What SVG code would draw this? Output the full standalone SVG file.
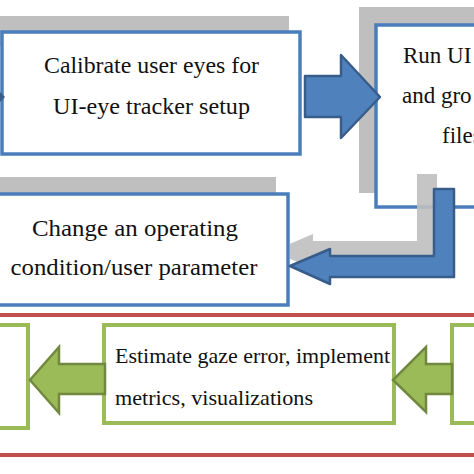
<svg xmlns="http://www.w3.org/2000/svg" width="474" height="474" viewBox="0 0 474 474">
<style>
.shadow{fill:#bfbfbf}
.bbox{fill:#ffffff;stroke:#4a7ebb;stroke-width:3.5}
.gbox{fill:#ffffff;stroke:#9bbb59;stroke-width:4}
.barrow{fill:#4f81bd;stroke:#385d8a;stroke-width:2.5;stroke-linejoin:round}
.garrow{fill:#9bbb59;stroke:#71893f;stroke-width:2.5;stroke-linejoin:miter}
.t{font-family:"Liberation Serif","Times New Roman",serif;font-size:23px;fill:#111111}
.ts{font-family:"Liberation Serif","Times New Roman",serif;font-size:21px;fill:#111111}
</style>
<rect width="474" height="474" fill="#ffffff"/>
<g id="group-red">
<rect x="-10" y="315" width="494" height="140" fill="none" stroke="#c0504d" stroke-width="4"/>
</g>
<g id="box-calibrate">
<rect class="shadow" x="-10" y="16" width="299" height="30"/>
<rect class="bbox" x="2" y="32" width="298" height="122"/>
<text class="t" x="151.5" y="73" text-anchor="middle" textLength="215" lengthAdjust="spacingAndGlyphs">Calibrate user eyes for</text>
<text class="t" x="151.5" y="114" text-anchor="middle" textLength="197" lengthAdjust="spacingAndGlyphs">UI-eye tracker setup</text>
</g>
<g id="box-run">
<rect class="shadow" x="359" y="7" width="130" height="186"/>
<rect class="bbox" x="376" y="25" width="110" height="182"/>
<text class="t" x="403" y="63">Run UI</text>
<text class="t" x="402" y="103">and gro</text>
<text class="t" x="442" y="143">files</text>
</g>
<g id="box-change">
<rect class="shadow" x="-10" y="177" width="286" height="30"/>
<rect class="bbox" x="-10" y="194" width="298" height="111"/>
<text class="t" x="135" y="236" text-anchor="middle" textLength="206" lengthAdjust="spacingAndGlyphs">Change an operating</text>
<text class="t" x="134" y="275" text-anchor="middle" textLength="247" lengthAdjust="spacingAndGlyphs">condition/user parameter</text>
</g>
<g id="box-left-green">
<rect class="gbox" x="-10" y="325" width="38" height="103"/>
</g>
<g id="box-estimate">
<rect class="gbox" x="104" y="325" width="290" height="98"/>
<text class="ts" x="115" y="363" textLength="275" lengthAdjust="spacingAndGlyphs">Estimate gaze error, implement</text>
<text class="ts" x="115" y="405" textLength="198" lengthAdjust="spacingAndGlyphs">metrics, visualizations</text>
</g>
<g id="box-right-green">
<rect class="gbox" x="452" y="325" width="40" height="98"/>
</g>
<g id="connectors">
<polygon fill="#385d8a" points="0,92 5,97 0,102"/>
<polygon class="barrow" points="305,76 341,76 341,55 380,97 341,138 341,117 305,117"/>
<polygon class="shadow" opacity="0.9" points="417,174 437,174 437,262 313,262 313,269 290,258.7 290,243.8 313,234 313,241 417,241"/>
<polygon class="barrow" points="434,189 454,189 454,277 330,277 330,284 290,266 330,249 330,256 434,256"/>
<polygon class="garrow" points="105,364 59,364 59,347 30,380 59,413 59,394 105,394"/>
<polygon class="garrow" points="452,364 426,364 426,347 393,380 426,412 426,394 452,394"/>
</g>
</svg>
